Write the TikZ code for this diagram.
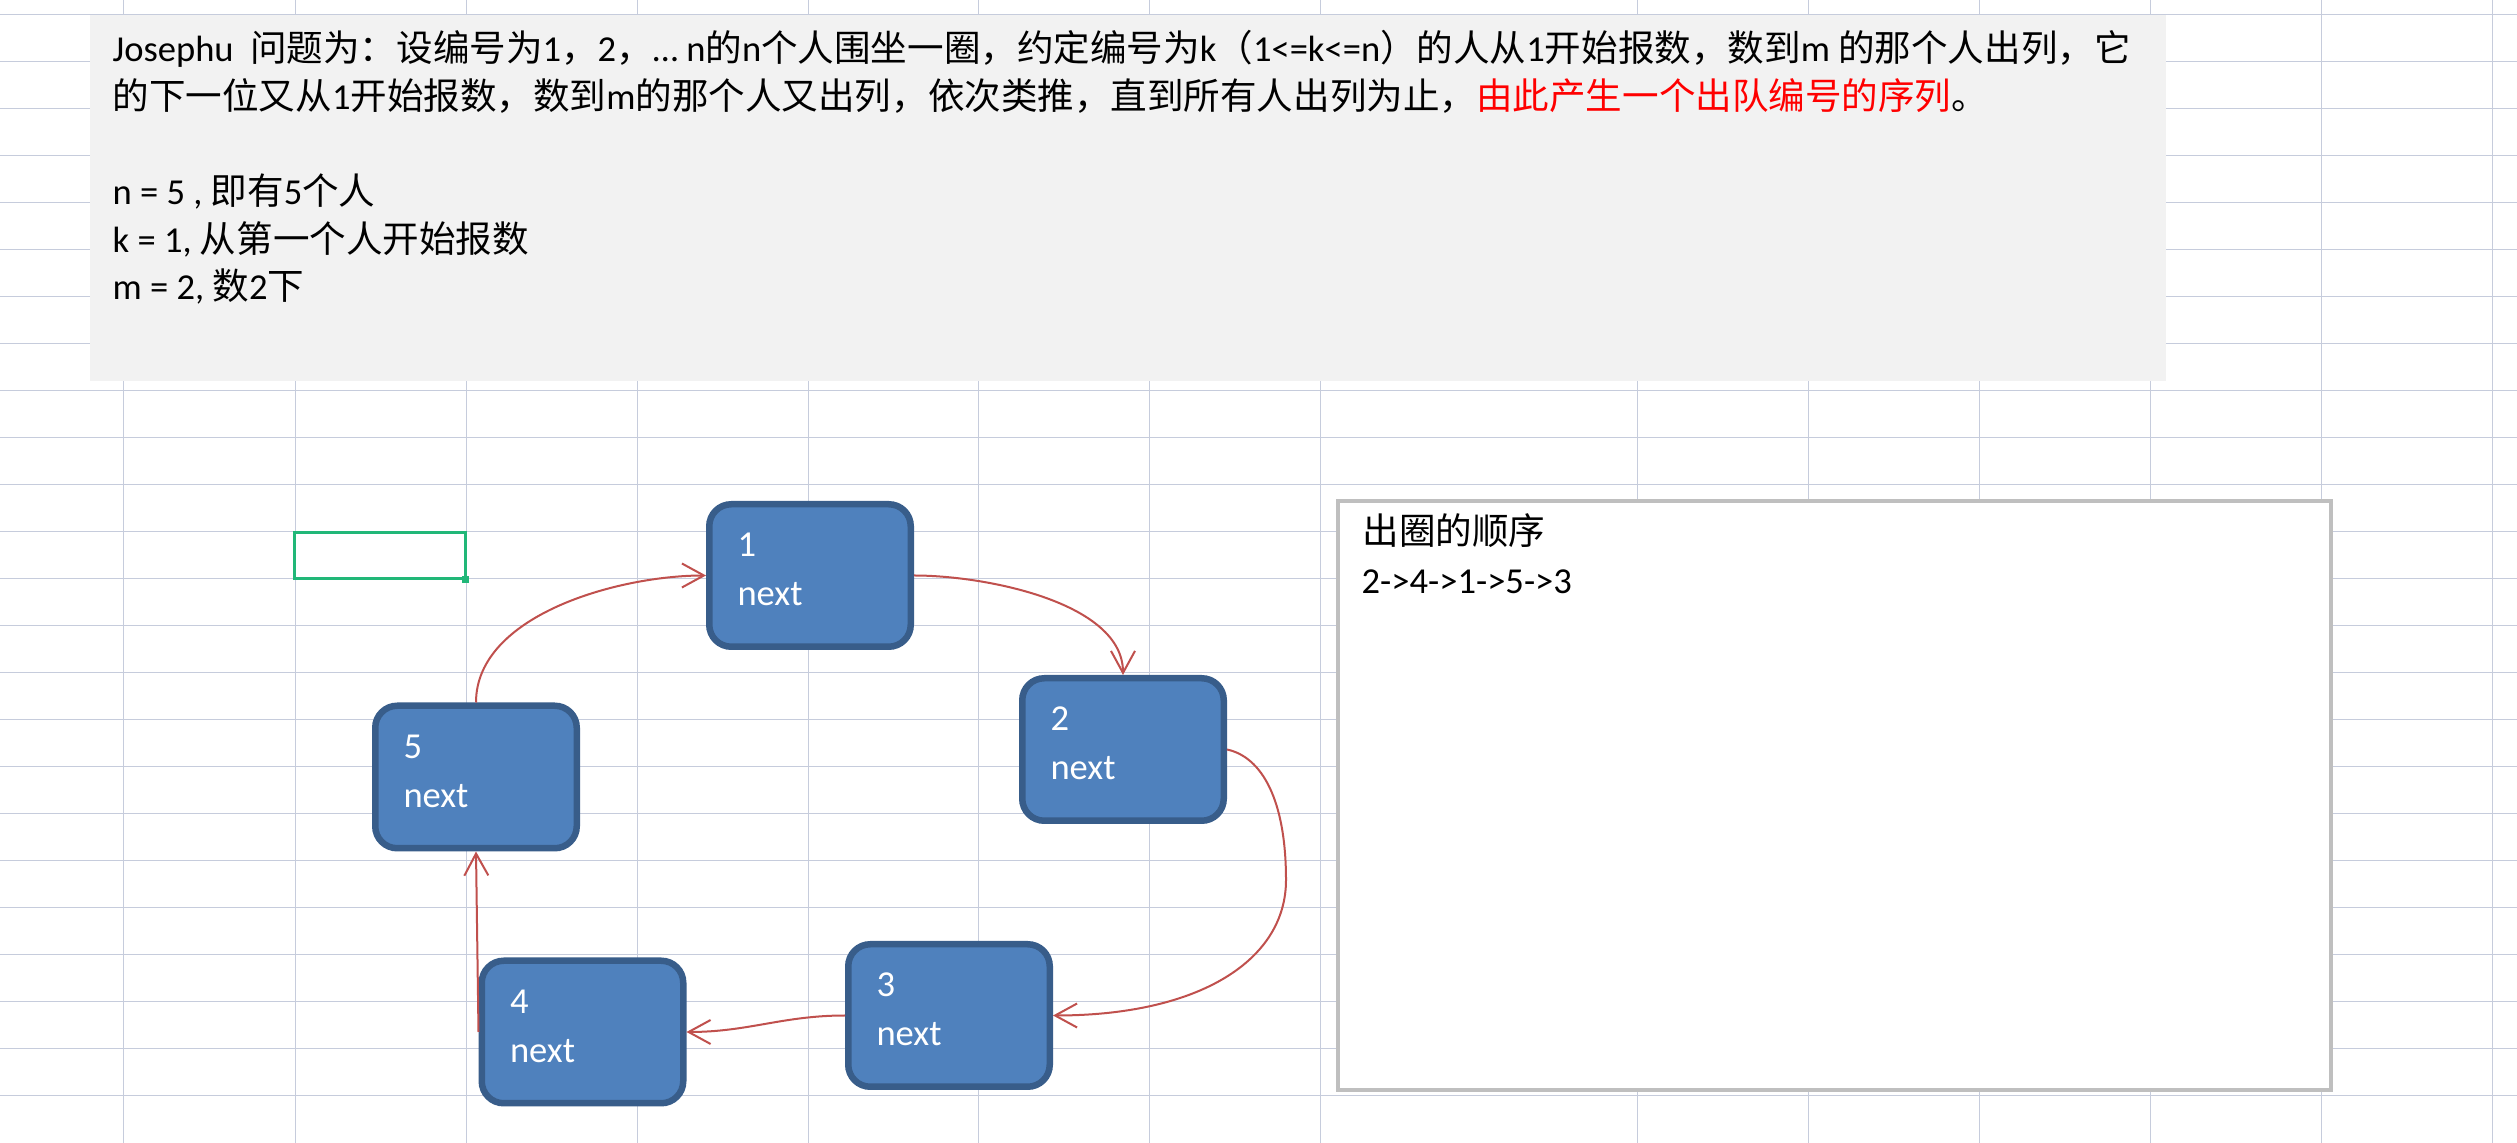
\documentclass[tikz,border=0pt]{standalone}
\usepackage{fontspec}
\setmainfont{Carlito}
\newfontfamily\cjkfont{Noto Sans CJK SC}
\newcommand{\zh}[1]{{\cjkfont #1}}
\usetikzlibrary{arrows.meta}

\definecolor{gridblue}{RGB}{198,204,220}
\definecolor{panelgray}{RGB}{242,242,242}
\definecolor{nodefill}{RGB}{79,129,189}
\definecolor{nodeborder}{RGB}{56,93,138}
\definecolor{linkred}{RGB}{192,80,77}
\definecolor{textred}{RGB}{255,0,0}
\definecolor{boxgray}{RGB}{191,191,191}
\definecolor{selgreen}{RGB}{33,183,120}

\tikzset{
  gridline/.style={draw=gridblue, line width=0.1mm},
  textline/.style={anchor=base west, inner sep=0pt},
  listnode/.style={draw=nodeborder, fill=nodefill, text=white,
    line width=0.65mm, rounded corners=2.2mm,
    minimum width=20.15mm, minimum height=14.25mm,
    align=left, text width=14.5mm, inner xsep=2.8mm,
    text height=2.3mm, text depth=6.0mm},
  link/.style={draw=linkred, line width=0.2mm,
    -{Straight Barb[length=2.2mm, width=2.4mm]}},
}

\begin{document}
\begin{tikzpicture}[
  x=0.1mm, y=0.1mm,
  font=\fontsize{10.4pt}{13.9pt}\selectfont,
  ]

  % Page size
  \def\W{2517}
  \def\H{1143}
  \useasboundingbox (0,0) rectangle (\W,-\H);
  \fill[white] (0,0) rectangle (\W,-\H);

  % Sheet grid
  \foreach \gy in {15,62,...,1096} {
    \draw[gridline] (0,-\gy) -- (\W,-\gy);
  }
  \foreach \gx in {123,295,466,637,808,978,1149,1320,1637,1808,1979,2150,2321,2492} {
    \draw[gridline] (\gx,0) -- (\gx,-\H);
  }

  % Problem statement panel
  \fill[panelgray] (90,-15) rectangle (2166,-381);
  \node[textline] (line1) at (112,-62)
    {Josephu\ \ \zh{问题为：设编号为}1\zh{，}2\zh{，}… n\zh{的}n\zh{个人围坐一圈，约定编号为}k\zh{（}1<=k<=n\zh{）的人从}1\zh{开始报数，数到}m \zh{的那个人出列，它}};
  \node[textline] (line2) at (112,-110)
    {\zh{的下一位又从}1\zh{开始报数，数到}m\zh{的那个人又出列，依次类推，直到所有人出列为止，\textcolor{textred}{由此产生一个出队编号的序列}。}};
  \node[textline] (pn) at (112,-205) {n = 5 , \zh{即有}5\zh{个人}};
  \node[textline] (pk) at (112,-253) {k = 1, \zh{从第一个人开始报数}};
  \node[textline] (pm) at (112,-300) {m = 2, \zh{数}2\zh{下}};

  % Selected cell
  \draw[selgreen, line width=0.3mm] (294.5,-533) rectangle (465,-579);
  \fill[selgreen] (462,-576) rectangle (469,-583);

  % Ring of nodes
  \node[listnode] (n1) at (810,-575.5) {1\\next};
  \node[listnode] (n2) at (1123,-749.5) {2\\next};
  \node[listnode] (n3) at (949,-1015.5) {3\\next};
  \node[listnode] (n4) at (582.5,-1032) {4\\next};
  \node[listnode] (n5) at (476,-777) {5\\next};

  % next pointers
  \draw[link] (n1.east) to[out=0, in=90, looseness=0.8] (n2.north);
  \draw[link] (n2.east) .. controls (1262,-757) and (1286,-800) .. (1286,-880)
    .. controls (1286,-960) and (1200,-1015.5) .. (n3.east);
  \draw[link] (n3.west) to[out=180, in=0] (n4.east);
  \draw[link] (n4.west) -- (n5.south);
  \draw[link] (n5.north) to[out=90, in=180, looseness=0.85] (n1.west);

  % Output order box
  \draw[boxgray, fill=white, line width=0.35mm] (1338,-501) rectangle (2331,-1090);
  \node[textline] (outtitle) at (1362,-545) {\zh{出圈的顺序}};
  \node[textline] (outseq) at (1361,-594) {2->4->1->5->3};

\end{tikzpicture}
\end{document}
